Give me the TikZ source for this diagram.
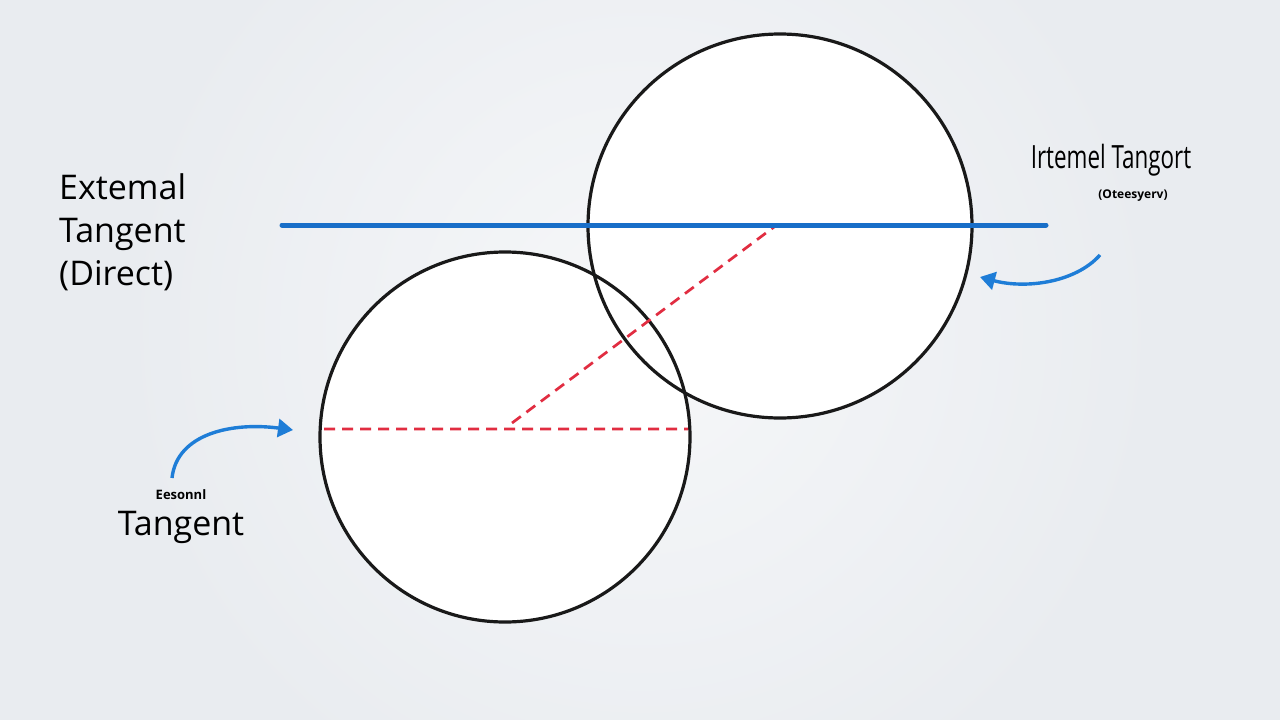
\documentclass[tikz,border=0pt]{standalone}
\usepackage{fontspec}
\setmainfont{Open Sans}
\usetikzlibrary{calc,arrows.meta}
\definecolor{bg}{RGB}{233,236,240}
\definecolor{tblue}{RGB}{24,110,200}
\definecolor{ablue}{RGB}{30,125,215}
\definecolor{rred}{RGB}{225,45,65}
\begin{document}
\begin{tikzpicture}[x=1pt,y=-1pt,
ring/.style={draw=black!90,line width=3.2pt},
tline/.style={draw=tblue,line width=5pt,line cap=round},
rdash/.style={draw=rred,line width=2.7pt,dash pattern=on 11pt off 7pt},
pointer/.style={draw=ablue,line width=3.4pt,-{Triangle[length=15pt,width=18pt]}},
lbl/.style={font=\fontsize{34}{43}\selectfont,align=left,inner sep=0pt}]
\fill[bg](0,0)rectangle(1280,720);
\useasboundingbox(0,0)rectangle(1280,720);
\shade[inner color=white!60!bg,outer color=bg,draw=none](640,330)circle(520);
%centres of the two circles
\coordinate(O_1) at(505,437);
\coordinate(O_2) at(780,226);
\foreach \c/\r in{O_1/185,O_2/192}
\fill[white](\c)circle(\r);
\foreach \c/\r in{O_1/185,O_2/192}
\draw[ring](\c)circle(\r);
%dashed construction
\coordinate(H_1) at(324,429);
\coordinate(H_2) at(688,429);
\coordinate(D) at(512,423);
\coordinate(T) at(774,227);
\draw[rdash](H_1)--(H_2) (D)--(T);
%tangent line
\coordinate(L_1) at(282,225);
\coordinate(L_2) at(1046,225);
\draw[tline](L_1)--(L_2);
%labels
\node[lbl,anchor=west](ext) at(59,232){Extemal\\Tangent\\(Direct)};
\node[lbl](tan) at(181,527){Tangent};
\node[font=\bfseries\fontsize{13}{15}\selectfont](eso) at(181,495){Eesonnl};
\node[font=\fontsize{32}{36}\selectfont,xscale=.7,inner sep=0pt](int) at(1111,160){Irtemel Tangort};
\node[font=\bfseries\fontsize{12}{14}\selectfont](obs) at(1133,196){(Oteesyerv)};
%pointers
\coordinate(a_1) at(1100,255);
\coordinate(a_2) at(980,277);
\draw[pointer](a_1)..controls+(-25,28)and+(45,12)..(a_2);
\coordinate(b_1) at(172,478);
\coordinate(b_2) at(293,430);
\draw[pointer](b_1)..controls+(5,-45)and+(-60,-8)..(b_2);
\end{tikzpicture}
\end{document}
